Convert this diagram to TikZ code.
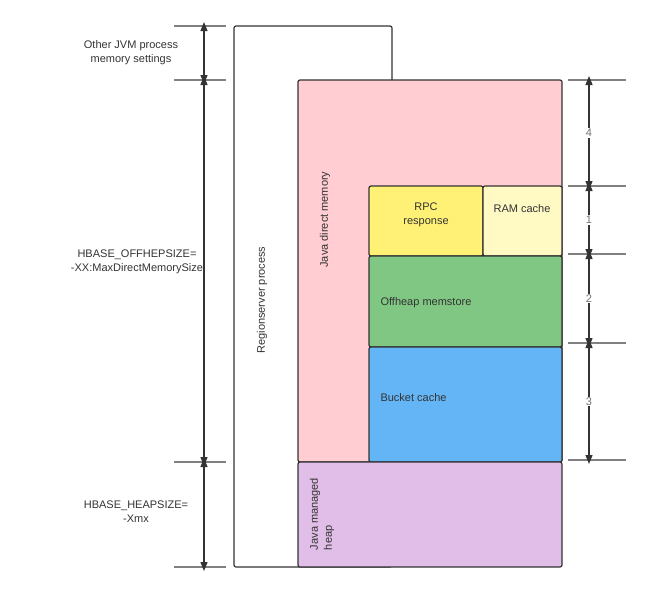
\documentclass[tikz,border=0pt]{standalone}
\usepackage{fontspec}
\setmainfont{Liberation Sans}
\usetikzlibrary{arrows.meta,positioning}
\definecolor{pinkbox}{HTML}{FFCDD2}
\definecolor{rpcbox}{HTML}{FFF176}
\definecolor{rambox}{HTML}{FFF9C4}
\definecolor{greenbox}{HTML}{81C784}
\definecolor{bluebox}{HTML}{64B5F6}
\definecolor{purplebox}{HTML}{E1BEE7}
\definecolor{ink}{HTML}{333333}
\begin{document}
\begin{tikzpicture}[
    x=1pt, y=-1pt,
    font=\fontsize{11}{14}\selectfont,
    box/.style={draw=ink, line width=1.2pt, rounded corners=2pt},
    tick/.style={draw=gray, line width=1.2pt},
    span/.style={ink, line width=1.2pt, {Triangle[length=9pt,width=7pt]}-{Triangle[length=9pt,width=7pt]}},
    num/.style={fill=white, inner sep=1pt, text=gray!90!black},
    lbl/.style={align=center, text=ink}
  ]
  \useasboundingbox (0,0) rectangle (652,598);

  % --- Boxes ---
  \draw[box] (234,26) rectangle (392,567);
  \node[rotate=90, text=ink] (rs) at (262,300) {Regionserver process};

  \draw[box, fill=pinkbox] (298,80) rectangle (562,462);
  \node[rotate=90, anchor=east, text=ink] (jdm) at (325,168) {Java direct memory};

  \draw[box, fill=rpcbox] (369,186) rectangle (483,256);
  \node[lbl] (rpc) at (426,215) {RPC\\response};
  \draw[box, fill=rambox] (483,186) rectangle (562,256);
  \node[lbl] (ram) at (522,209) {RAM cache};

  \draw[box, fill=greenbox] (369,256) rectangle (562,347);
  \node[anchor=west, text=ink] (mem) at (377,303) {Offheap memstore};

  \draw[box, fill=bluebox] (369,347) rectangle (562,462);
  \node[anchor=west, text=ink] (bc) at (377,398) {Bucket cache};

  \draw[box, fill=purplebox] (298,462) rectangle (562,567);
  \node[rotate=90, align=left, text=ink] (heap) at (322,514) {Java managed\\heap};

  % --- Right scale ---
  \foreach \n/\y in {r0/80, r1/186, r2/254, r3/343, r4/460} {
    \coordinate (\n) at (589,\y);
    \draw[tick] (568,\y) -- (626,\y);
  }
  \foreach \a/\b/\t in {r0/r1/4, r1/r2/1, r2/r3/2, r3/r4/3} {
    \draw[span] ([yshift=4]\a) -- ([yshift=-4]\b) node[midway, num] {\t};
  }

  % --- Left scale ---
  \foreach \n/\y in {l0/26, l1/80, l2/462, l3/567} {
    \coordinate (\n) at (204,\y);
    \draw[tick] (174,\y) -- (226,\y);
  }
  \foreach \a/\b in {l0/l1, l1/l2, l2/l3} {
    \draw[span] ([yshift=4]\a) -- ([yshift=-4]\b);
  }
  \node[lbl] (jvm) at (131,53) {Other JVM process\\memory settings};
  \node[lbl] (off) at (137,262) {HBASE\_OFFHEPSIZE=\\-XX:MaxDirectMemorySize};
  \node[lbl] (hs) at (136,512) {HBASE\_HEAPSIZE=\\-Xmx};

\end{tikzpicture}
\end{document}
